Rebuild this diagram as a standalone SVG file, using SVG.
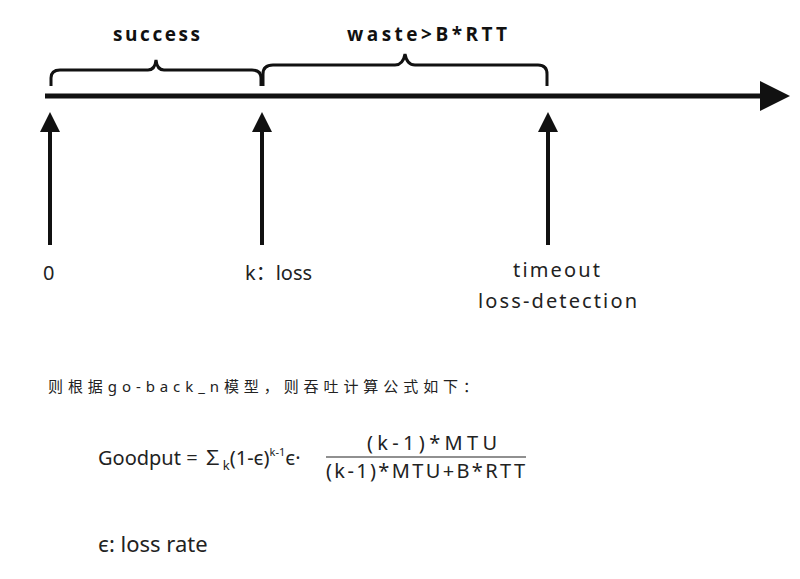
<svg xmlns="http://www.w3.org/2000/svg" width="800" height="579" viewBox="0 0 800 579">
<style>
text{font-family:"Noto Sans","Noto Sans CJK SC",sans-serif;fill:#222}
.b{font-family:"Open Sans","Noto Sans",sans-serif;font-weight:bold;font-size:19px;fill:#111}
.br{fill:none;stroke:#111;stroke-width:3}
.ar{stroke:#111;stroke-width:4}
</style>
<defs>
<marker id="ah" markerWidth="6" markerHeight="6" refX="1" refY="3" orient="auto" markerUnits="strokeWidth"><path d="M0,0L6,3L0,6Z" fill="#111"/></marker>
<marker id="up" markerWidth="5" markerHeight="5" refX="1" refY="2.5" orient="auto" markerUnits="strokeWidth"><path d="M0,0L5,2.5L0,5Z" fill="#111"/></marker>
</defs>
<g id="connectors">
<line x1="45" y1="96" x2="765" y2="96" stroke="#111" stroke-width="5" marker-end="url(#ah)"/>
<line class="ar" x1="50" y1="245" x2="50" y2="128" marker-end="url(#up)"/>
<line class="ar" x1="262" y1="245" x2="262" y2="128" marker-end="url(#up)"/>
<line class="ar" x1="548" y1="245" x2="548" y2="128" marker-end="url(#up)"/>
</g>
<g id="brace-success">
<path class="br" d="M51,86V78Q51,70 60,70H148Q155,70 156,60Q157,70 164,70H252Q261,70 261,78V86"/>
<text class="b" x="113" y="41" textLength="87">success</text>
</g>
<g id="brace-waste">
<path class="br" d="M263,86V74Q263,65 273,65H395Q403,65 405,54Q407,65 415,65H538Q547,65 547,74V86"/>
<text class="b" x="347" y="41" textLength="160">waste&gt;B*RTT</text>
</g>
<g id="label-0"><text x="43" y="280" font-size="20">0</text></g>
<g id="label-k"><text x="245" y="280" font-size="20">k：loss</text></g>
<g id="label-timeout"><text x="513" y="277" font-size="20" textLength="87">timeout</text><text x="478" y="308" font-size="20" textLength="159">loss-detection</text></g>
<text x="48" y="392" font-size="15" textLength="430">则根据go-back_n模型，则吞吐计算公式如下：</text>
<g id="formula">
<text x="98" y="465" font-size="20">Goodput = ∑<tspan font-size="13" dy="5">k</tspan><tspan dy="-5">(1-ϵ)</tspan><tspan font-size="11" dy="-9">k-1</tspan><tspan dy="9">ϵ·</tspan></text>
<text x="367" y="450" font-size="20" textLength="130">(k-1)*MTU</text>
<line x1="326" y1="457" x2="526" y2="457" stroke="#222" stroke-width="1.2"/>
<text x="326" y="478" font-size="20" textLength="199">(k-1)*MTU+B*RTT</text>
</g>
<text x="98" y="552" font-size="22">ϵ: loss rate</text>
</svg>
